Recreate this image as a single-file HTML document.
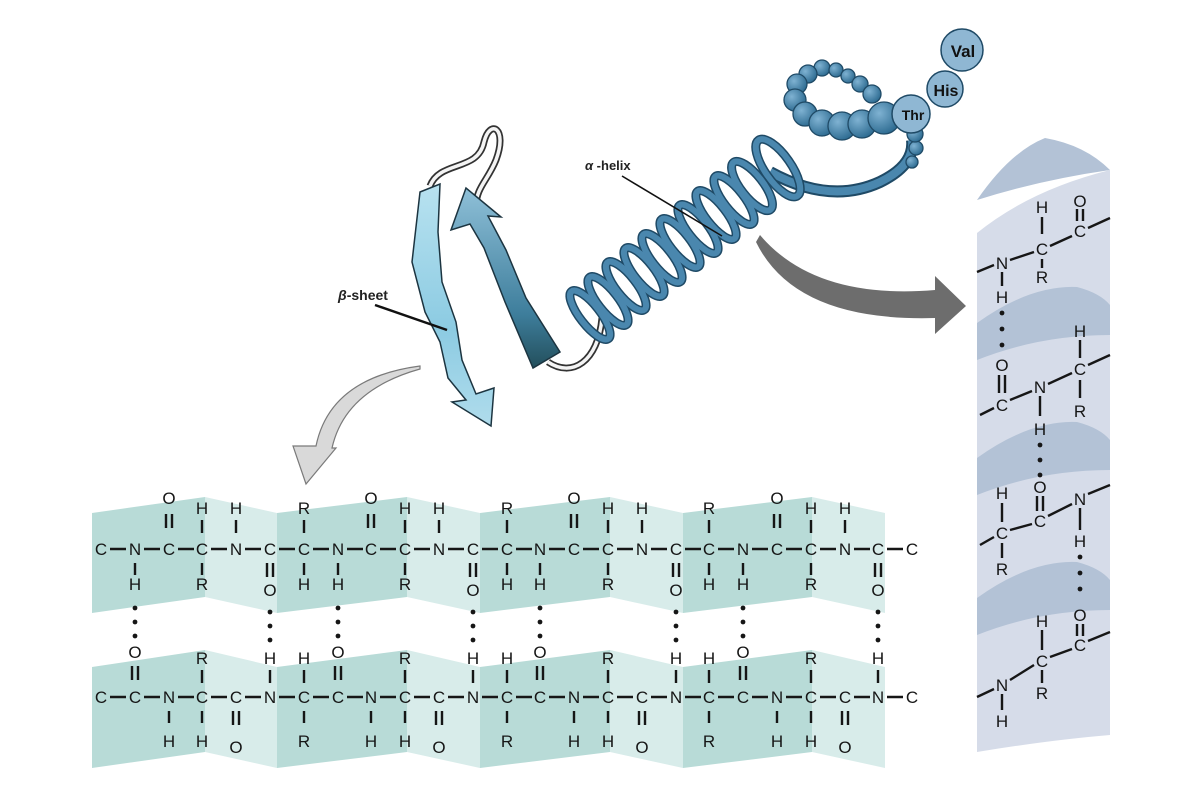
<!DOCTYPE html>
<html><head><meta charset="utf-8"><style>
html,body{margin:0;padding:0;background:#fff;}
svg{display:block;}
text{font-family:"Liberation Sans",sans-serif;}
.a{font-size:17px;fill:#161616;text-anchor:middle;}
</style></head><body>
<svg width="1200" height="800" viewBox="0 0 1200 800" xmlns="http://www.w3.org/2000/svg">
<defs>
<linearGradient id="s2" x1="0" y1="1" x2="0" y2="0"><stop offset="0" stop-color="#234f5c"/><stop offset="0.3" stop-color="#3e7e9c"/><stop offset="1" stop-color="#8fc0d8"/></linearGradient>
<linearGradient id="s1" x1="0" y1="0" x2="0" y2="1"><stop offset="0" stop-color="#b8e2f0"/><stop offset="0.6" stop-color="#8ccbe2"/><stop offset="1" stop-color="#b0dcec"/></linearGradient>
<radialGradient id="bd" cx="0.35" cy="0.35" r="0.7"><stop offset="0" stop-color="#7fb2d2"/><stop offset="1" stop-color="#2c6a90"/></radialGradient>
</defs>

<!-- beta sheet background -->
<g>
<polygon fill="#b8dbd7" points="92,513 205,497 205,597 92,613"/>
<polygon fill="#d8ecea" points="205,497 277,513 277,613 205,597"/>
<polygon fill="#b8dbd7" points="277,513 407,497 407,597 277,613"/>
<polygon fill="#d8ecea" points="407,497 480,513 480,613 407,597"/>
<polygon fill="#b8dbd7" points="480,513 610,497 610,597 480,613"/>
<polygon fill="#d8ecea" points="610,497 683,513 683,613 610,597"/>
<polygon fill="#b8dbd7" points="683,513 812,497 812,597 683,613"/>
<polygon fill="#d8ecea" points="812,497 885,513 885,613 812,597"/>

<polygon fill="#b8dbd7" points="92,667 205,650 205,752 92,768"/>
<polygon fill="#d8ecea" points="205,650 277,667 277,768 205,752"/>
<polygon fill="#b8dbd7" points="277,667 407,650 407,752 277,768"/>
<polygon fill="#d8ecea" points="407,650 480,667 480,768 407,752"/>
<polygon fill="#b8dbd7" points="480,667 610,650 610,752 480,768"/>
<polygon fill="#d8ecea" points="610,650 683,667 683,768 610,752"/>
<polygon fill="#b8dbd7" points="683,667 812,650 812,752 683,768"/>
<polygon fill="#d8ecea" points="812,650 885,667 885,768 812,752"/>
</g>

<!-- beta sheet bonds -->
<path stroke="#161616" stroke-width="2.4" fill="none" d="
M110 549h16M144 549h16M178 549h16M211 549h16M245 549h16M279 549h16M313 549h16M347 549h16M380 549h16M414 549h16M448 549h16M482 549h16M516 549h16M549 549h16M583 549h16M617 549h16M651 549h16M685 549h16M718 549h16M752 549h16M786 549h16M820 549h16M854 549h16M887 549h16
M202 520v13M405 520v13M608 520v13M811 520v13M236 520v13M439 520v13M642 520v13M845 520v13M304 520v13M507 520v13M709 520v13
M166 514v14M172 514v14M368 514v14M374 514v14M571 514v14M577 514v14M774 514v14M780 514v14
M135 563v12M338 563v12M540 563v12M743 563v12M202 563v12M405 563v12M608 563v12M811 563v12M304 563v12M507 563v12M709 563v12
M267 563v14M273 563v14M470 563v14M476 563v14M673 563v14M679 563v14M875 563v14M881 563v14
M110 697h16M144 697h16M178 697h16M211 697h16M245 697h16M279 697h16M313 697h16M347 697h16M380 697h16M414 697h16M448 697h16M482 697h16M516 697h16M549 697h16M583 697h16M617 697h16M651 697h16M685 697h16M718 697h16M752 697h16M786 697h16M820 697h16M854 697h16M887 697h16
M202 670v13M405 670v13M608 670v13M811 670v13M270 670v13M473 670v13M676 670v13M878 670v13M304 670v13M507 670v13M709 670v13
M132 666v14M138 666v14M335 666v14M341 666v14M537 666v14M543 666v14M740 666v14M746 666v14
M169 711v12M371 711v12M574 711v12M777 711v12M202 711v12M405 711v12M608 711v12M811 711v12M304 711v12M507 711v12M709 711v12
M233 711v14M239 711v14M436 711v14M442 711v14M639 711v14M645 711v14M842 711v14M848 711v14"/>
<g fill="#161616">
<circle cx="135" cy="608" r="2.4"/><circle cx="135" cy="622" r="2.4"/><circle cx="135" cy="636" r="2.4"/>
<circle cx="338" cy="608" r="2.4"/><circle cx="338" cy="622" r="2.4"/><circle cx="338" cy="636" r="2.4"/>
<circle cx="540" cy="608" r="2.4"/><circle cx="540" cy="622" r="2.4"/><circle cx="540" cy="636" r="2.4"/>
<circle cx="743" cy="608" r="2.4"/><circle cx="743" cy="622" r="2.4"/><circle cx="743" cy="636" r="2.4"/>
<circle cx="270" cy="612" r="2.4"/><circle cx="270" cy="626" r="2.4"/><circle cx="270" cy="640" r="2.4"/>
<circle cx="473" cy="612" r="2.4"/><circle cx="473" cy="626" r="2.4"/><circle cx="473" cy="640" r="2.4"/>
<circle cx="676" cy="612" r="2.4"/><circle cx="676" cy="626" r="2.4"/><circle cx="676" cy="640" r="2.4"/>
<circle cx="878" cy="612" r="2.4"/><circle cx="878" cy="626" r="2.4"/><circle cx="878" cy="640" r="2.4"/>
</g>
<g class="a">
<text x="101" y="555">C</text><text x="135" y="555">N</text><text x="169" y="555">C</text><text x="202" y="555">C</text><text x="236" y="555">N</text><text x="270" y="555">C</text><text x="304" y="555">C</text><text x="338" y="555">N</text><text x="371" y="555">C</text><text x="405" y="555">C</text><text x="439" y="555">N</text><text x="473" y="555">C</text><text x="507" y="555">C</text><text x="540" y="555">N</text><text x="574" y="555">C</text><text x="608" y="555">C</text><text x="642" y="555">N</text><text x="676" y="555">C</text><text x="709" y="555">C</text><text x="743" y="555">N</text><text x="777" y="555">C</text><text x="811" y="555">C</text><text x="845" y="555">N</text><text x="878" y="555">C</text><text x="912" y="555">C</text>
<text x="169" y="504">O</text><text x="371" y="504">O</text><text x="574" y="504">O</text><text x="777" y="504">O</text>
<text x="202" y="514">H</text><text x="405" y="514">H</text><text x="608" y="514">H</text><text x="811" y="514">H</text>
<text x="236" y="514">H</text><text x="439" y="514">H</text><text x="642" y="514">H</text><text x="845" y="514">H</text>
<text x="304" y="514">R</text><text x="507" y="514">R</text><text x="709" y="514">R</text>
<text x="135" y="590">H</text><text x="338" y="590">H</text><text x="540" y="590">H</text><text x="743" y="590">H</text>
<text x="202" y="590">R</text><text x="405" y="590">R</text><text x="608" y="590">R</text><text x="811" y="590">R</text>
<text x="270" y="596">O</text><text x="473" y="596">O</text><text x="676" y="596">O</text><text x="878" y="596">O</text>
<text x="304" y="590">H</text><text x="507" y="590">H</text><text x="709" y="590">H</text>
<text x="101" y="703">C</text><text x="135" y="703">C</text><text x="169" y="703">N</text><text x="202" y="703">C</text><text x="236" y="703">C</text><text x="270" y="703">N</text><text x="304" y="703">C</text><text x="338" y="703">C</text><text x="371" y="703">N</text><text x="405" y="703">C</text><text x="439" y="703">C</text><text x="473" y="703">N</text><text x="507" y="703">C</text><text x="540" y="703">C</text><text x="574" y="703">N</text><text x="608" y="703">C</text><text x="642" y="703">C</text><text x="676" y="703">N</text><text x="709" y="703">C</text><text x="743" y="703">C</text><text x="777" y="703">N</text><text x="811" y="703">C</text><text x="845" y="703">C</text><text x="878" y="703">N</text><text x="912" y="703">C</text>
<text x="135" y="658">O</text><text x="338" y="658">O</text><text x="540" y="658">O</text><text x="743" y="658">O</text>
<text x="202" y="664">R</text><text x="405" y="664">R</text><text x="608" y="664">R</text><text x="811" y="664">R</text>
<text x="270" y="664">H</text><text x="473" y="664">H</text><text x="676" y="664">H</text><text x="878" y="664">H</text>
<text x="304" y="664">H</text><text x="507" y="664">H</text><text x="709" y="664">H</text>
<text x="169" y="747">H</text><text x="371" y="747">H</text><text x="574" y="747">H</text><text x="777" y="747">H</text>
<text x="202" y="747">H</text><text x="405" y="747">H</text><text x="608" y="747">H</text><text x="811" y="747">H</text>
<text x="236" y="753">O</text><text x="439" y="753">O</text><text x="642" y="753">O</text><text x="845" y="753">O</text>
<text x="304" y="747">R</text><text x="507" y="747">R</text><text x="709" y="747">R</text>
</g>

<!-- right helix panel -->
<path fill="#d6dce9" d="M977 233 Q1030 190 1110 170 L1110 735 Q1050 740 977 752 Z"/>
<path fill="#b3c2d6" d="M977 200 Q1010 152 1045 138 Q1085 145 1110 170 Q1040 180 977 200 Z"/>
<path fill="#b3c2d6" d="M977 323 Q1030 285 1077 287 Q1100 293 1110 305 L1110 335 Q1040 335 977 360 Z"/>
<path fill="#b3c2d6" d="M977 458 Q1030 420 1077 422 Q1100 428 1110 440 L1110 470 Q1040 470 977 495 Z"/>
<path fill="#b3c2d6" d="M977 598 Q1030 560 1077 562 Q1100 568 1110 580 L1110 610 Q1040 610 977 635 Z"/>
<path stroke="#161616" stroke-width="2.4" fill="none" d="
M1010 260L1034 252M1050 246L1072 236M1088 228L1110 218M977 272L994 265
M1042 217v17M1042 259v9M1077 209v12M1083 209v12M1002 272v14
M999 375v18M1005 375v18M980 415L994 408M1010 400L1032 391M1048 384L1072 373
M1080 340v18M1080 380v18M1088 365L1110 355M1040 396v20
M1037 496v15M1043 496v15M1032 524L1010 530M1048 516L1072 504
M1002 503v19M1002 543v15M980 545L994 537M1088 494L1110 485M1080 508v22
M1077 624v12M1083 624v12M1088 641L1110 632M1072 649L1050 657M1042 630v20M1042 670v13M1034 665L1010 680M994 689L977 697M1002 694v16"/>
<g fill="#161616">
<circle cx="1002" cy="313" r="2.4"/><circle cx="1002" cy="329" r="2.4"/><circle cx="1002" cy="345" r="2.4"/>
<circle cx="1040" cy="445" r="2.4"/><circle cx="1040" cy="460" r="2.4"/><circle cx="1040" cy="475" r="2.4"/>
<circle cx="1080" cy="557" r="2.4"/><circle cx="1080" cy="573" r="2.4"/><circle cx="1080" cy="589" r="2.4"/>
</g>
<g class="a">
<text x="1080" y="207">O</text><text x="1042" y="213">H</text><text x="1080" y="237">C</text><text x="1042" y="255">C</text><text x="1002" y="269">N</text><text x="1042" y="283">R</text><text x="1002" y="303">H</text>
<text x="1002" y="371">O</text><text x="1002" y="411">C</text><text x="1040" y="393">N</text><text x="1080" y="337">H</text><text x="1080" y="375">C</text><text x="1080" y="417">R</text><text x="1040" y="435">H</text>
<text x="1040" y="493">O</text><text x="1040" y="527">C</text><text x="1002" y="499">H</text><text x="1002" y="539">C</text><text x="1002" y="575">R</text><text x="1080" y="505">N</text><text x="1080" y="547">H</text>
<text x="1080" y="621">O</text><text x="1080" y="651">C</text><text x="1042" y="627">H</text><text x="1042" y="667">C</text><text x="1042" y="699">R</text><text x="1002" y="691">N</text><text x="1002" y="727">H</text>
</g>

<!-- arrows -->
<path fill="#6d6d6d" d="M760 235 Q815 300 935 290 L935 276 L966 306 L935 334 L935 318 Q795 322 756 242 Z"/>
<path fill="#d9d9d9" stroke="#7a7a7a" stroke-width="1.2" d="M420 366 Q330 378 316 446 L293 446 L306 484 L336 448 L332 448 Q345 390 420 369 Z"/>

<!-- beta strands -->
<path d="M430 186 C440 160 478 172 484 142 C490 118 508 128 496 160 C488 180 476 188 476 206" stroke="#333" stroke-width="7" fill="none"/>
<path d="M430 186 C440 160 478 172 484 142 C490 118 508 128 496 160 C488 180 476 188 476 206" stroke="#f4f4f4" stroke-width="3.5" fill="none"/>
<path d="M548 362 C572 378 598 362 602 318" stroke="#333" stroke-width="7" fill="none"/>
<path d="M548 362 C572 378 598 362 602 318" stroke="#f4f4f4" stroke-width="3.5" fill="none"/>
<path fill="url(#s1)" stroke="#1c3440" stroke-width="1.5" d="M420 192 L440 184 L438 232 L442 282 L456 322 L462 360 L476 394 L494 388 L491 426 L452 402 L466 400 L448 378 L440 342 L425 312 L412 262 Z"/>
<path fill="url(#s2)" stroke="#1c3440" stroke-width="1.5" d="M533 368 L505 302 L484 248 L470 224 L451 230 L466 188 L501 217 L488 216 L506 250 L526 298 L560 352 Z"/>
<path d="M375 305 L447 330" stroke="#111" stroke-width="2.5"/>
<text x="338" y="300" style="font-size:14px;font-weight:bold;fill:#222"><tspan font-style="italic">β</tspan>-sheet</text>

<!-- helix -->
<g fill="none">
<path d="M770 172 Q830 205 880 182 Q915 165 912 140" stroke="#1f4a66" stroke-width="12"/>
<path d="M770 172 Q830 205 880 182 Q915 165 912 140" stroke="#4a87ae" stroke-width="8"/>
<g stroke="#1f4a66" stroke-width="9">
<ellipse cx="590" cy="315" rx="30" ry="10" transform="rotate(52 590 315)"/>
<ellipse cx="608" cy="301" rx="30" ry="10" transform="rotate(52 608 301)"/>
<ellipse cx="626" cy="286" rx="30" ry="10" transform="rotate(52 626 286)"/>
<ellipse cx="644" cy="272" rx="30" ry="10" transform="rotate(52 644 272)"/>
<ellipse cx="662" cy="258" rx="30" ry="10" transform="rotate(52 662 258)"/>
<ellipse cx="680" cy="243" rx="30" ry="10" transform="rotate(52 680 243)"/>
<ellipse cx="698" cy="229" rx="30" ry="10" transform="rotate(52 698 229)"/>
<ellipse cx="716" cy="215" rx="30" ry="10" transform="rotate(52 716 215)"/>
<ellipse cx="734" cy="200" rx="30" ry="10" transform="rotate(52 734 200)"/>
<ellipse cx="752" cy="186" rx="30" ry="11" transform="rotate(52 752 186)"/>
<ellipse cx="778" cy="168" rx="34" ry="13" transform="rotate(55 778 168)"/>
</g>
<g stroke="#4a87ae" stroke-width="6">
<ellipse cx="590" cy="315" rx="30" ry="10" transform="rotate(52 590 315)"/>
<ellipse cx="608" cy="301" rx="30" ry="10" transform="rotate(52 608 301)"/>
<ellipse cx="626" cy="286" rx="30" ry="10" transform="rotate(52 626 286)"/>
<ellipse cx="644" cy="272" rx="30" ry="10" transform="rotate(52 644 272)"/>
<ellipse cx="662" cy="258" rx="30" ry="10" transform="rotate(52 662 258)"/>
<ellipse cx="680" cy="243" rx="30" ry="10" transform="rotate(52 680 243)"/>
<ellipse cx="698" cy="229" rx="30" ry="10" transform="rotate(52 698 229)"/>
<ellipse cx="716" cy="215" rx="30" ry="10" transform="rotate(52 716 215)"/>
<ellipse cx="734" cy="200" rx="30" ry="10" transform="rotate(52 734 200)"/>
<ellipse cx="752" cy="186" rx="30" ry="11" transform="rotate(52 752 186)"/>
<ellipse cx="778" cy="168" rx="34" ry="13" transform="rotate(55 778 168)"/>
</g>
</g>
<g fill="url(#bd)" stroke="#1f4a66" stroke-width="1.3">
<circle cx="912" cy="162" r="6"/><circle cx="916" cy="148" r="7"/><circle cx="915" cy="134" r="8"/>
<circle cx="822" cy="68" r="8"/><circle cx="808" cy="74" r="9"/><circle cx="797" cy="84" r="10"/>
<circle cx="836" cy="70" r="7"/><circle cx="848" cy="76" r="7"/><circle cx="860" cy="84" r="8"/><circle cx="872" cy="94" r="9"/>
<circle cx="795" cy="100" r="11"/><circle cx="805" cy="114" r="12"/><circle cx="822" cy="123" r="13"/><circle cx="842" cy="126" r="14"/><circle cx="862" cy="124" r="14"/><circle cx="884" cy="118" r="16"/>
</g>
<g stroke="#1f4a66" stroke-width="1.5" fill="#8fb7d3">
<circle cx="911" cy="114" r="19"/><circle cx="945" cy="89" r="18"/><circle cx="962" cy="50" r="21"/>
</g>
<g style="font-weight:bold;fill:#111;text-anchor:middle">
<text x="913" y="120" style="font-size:14px">Thr</text>
<text x="946" y="96" style="font-size:16px">His</text>
<text x="963" y="57" style="font-size:17px">Val</text>
</g>
<path d="M622 176 L722 236" stroke="#111" stroke-width="1.6"/>
<text x="585" y="170" style="font-size:13px;font-weight:bold;fill:#222"><tspan font-style="italic">α</tspan> -helix</text>
</svg>
</body></html>
